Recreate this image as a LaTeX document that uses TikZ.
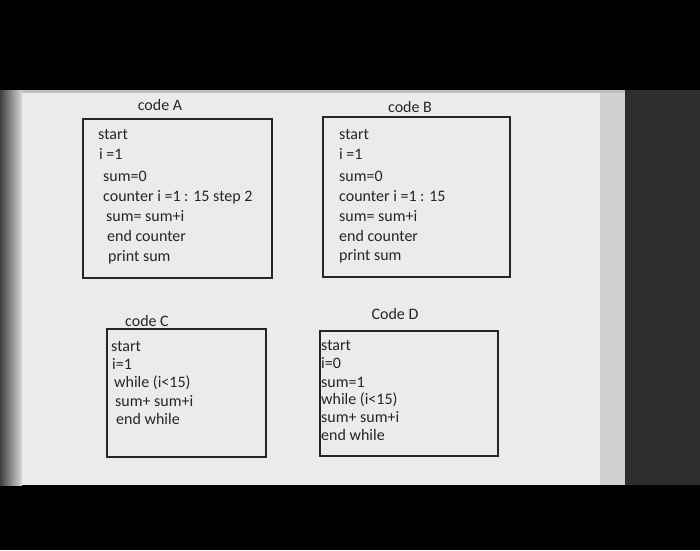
\documentclass[tikz,border=0pt]{standalone}
\usepackage{fontspec}
\setmainfont{Carlito}
\begin{document}
\begin{tikzpicture}[x=1pt,y=-1pt,
  box/.style={draw=black!85,line width=1.2pt},
  txt/.style={anchor=west,inner sep=0pt,font=\fontsize{16}{16}\selectfont,text=black!85},
  ttl/.style={inner sep=0pt,font=\fontsize{16}{16}\selectfont,text=black!85}]
\useasboundingbox (0,0) rectangle (700,550);
\fill[black] (0,0) rectangle (700,550);
\fill[left color=black!75,right color=black!15] (0,90) rectangle (22,485);
\fill[black!8] (22,90) rectangle (625,485);
\fill[black!25] (22,90) rectangle (625,93);
\fill[black!18] (600,93) rectangle (625,485);
\fill[black!82] (625,90) rectangle (700,485);
% boxes
\draw[box] (83,119) rectangle (272,278);
\draw[box] (323,117) rectangle (510,277);
\draw[box] (107,329) rectangle (266,457);
\draw[box] (320,331) rectangle (498,456);
\node[ttl] (ta) at (160,105) {code A};
\node[ttl] (tb) at (410,107) {code B};
\node[ttl] (tc) at (147,321) {code C};
\node[ttl] (td) at (395,314) {Code D};
% A
\node[txt] (a1) at (98,134) {start};
\node[txt] (a2) at (99,154) {i =1};
\node[txt] (a3) at (103,176) {sum=0};
\node[txt] (a4) at (103,197) {counter i =1 : 15 step 2};
\node[txt] (a5) at (106,216) {sum= sum+i};
\node[txt] (a6) at (107,236) {end counter};
\node[txt] (a7) at (108,257) {print sum};
% B
\node[txt] (b1) at (339,134) {start};
\node[txt] (b2) at (339,154) {i =1};
\node[txt] (b3) at (339,176) {sum=0};
\node[txt] (b4) at (339,196) {counter i =1 : 15};
\node[txt] (b5) at (339,216) {sum= sum+i};
\node[txt] (b6) at (339,236) {end counter};
\node[txt] (b7) at (339,256) {print sum};
% C
\node[txt] (c1) at (111,346) {start};
\node[txt] (c2) at (112,364) {i=1};
\node[txt] (c3) at (114,383) {while (i<15)};
\node[txt] (c4) at (115,401) {sum+ sum+i};
\node[txt] (c5) at (116,419) {end while};
% D
\node[txt] (d1) at (321,345) {start};
\node[txt] (d2) at (321,363) {i=0};
\node[txt] (d3) at (321,382) {sum=1};
\node[txt] (d4) at (321,400) {while (i<15)};
\node[txt] (d5) at (321,417) {sum+ sum+i};
\node[txt] (d6) at (321,435) {end while};
\end{tikzpicture}
\end{document}
